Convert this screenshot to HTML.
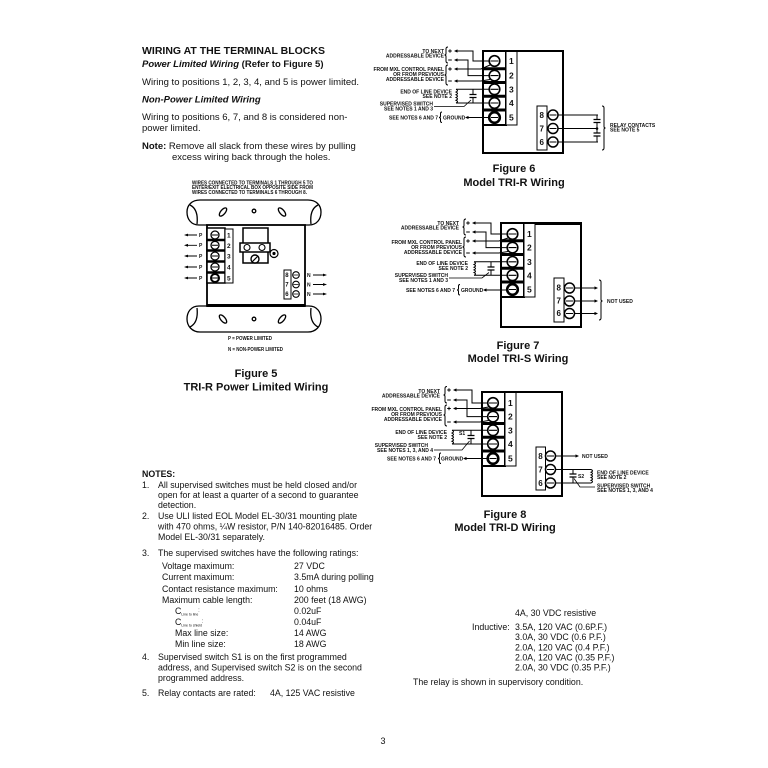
<!DOCTYPE html>
<html><head><meta charset="utf-8">
<style>
html,body{margin:0;padding:0;background:#fff;}
svg{display:block;}
text{font-family:"Liberation Sans",Arial,sans-serif;fill:#111;}
.b{font-weight:bold;}
.s{font-size:5px;font-weight:bold;}
.t{font-size:9.5px;}
.n{font-size:8.8px;}
.cap{font-size:11px;font-weight:bold;text-anchor:middle;}
.e{text-anchor:end;}
</style></head><body>
<svg width="768" height="768" viewBox="0 0 768 768" xmlns="http://www.w3.org/2000/svg">
<rect width="768" height="768" fill="#fff"/>

<!-- ===== Top-left text ===== -->
<text x="142" y="54" class="b" font-size="10.5">WIRING AT THE TERMINAL BLOCKS</text>
<text x="142" y="67" class="b t"><tspan font-style="italic">Power Limited Wiring</tspan> (Refer to Figure 5)</text>
<text x="142" y="85" class="t">Wiring to positions 1, 2, 3, 4, and 5 is power limited.</text>
<text x="142" y="102.5" class="b t" font-style="italic">Non-Power Limited Wiring</text>
<text x="142" y="120" class="t">Wiring to positions 6, 7, and 8 is considered non-</text>
<text x="142" y="131" class="t">power limited.</text>
<text x="142" y="149" class="t"><tspan font-weight="bold">Note:</tspan> Remove all slack from these wires by pulling</text>
<text x="172" y="160" class="t">excess wiring back through the holes.</text>

<!-- ===== Figure 5 ===== -->
<text x="192" y="184.5" class="s" font-size="4.6" textLength="121" lengthAdjust="spacingAndGlyphs">WIRES CONNECTED TO TERMINALS 1 THROUGH 5 TO</text>
<text x="192" y="189.2" class="s" font-size="4.6" textLength="121" lengthAdjust="spacingAndGlyphs">ENTER/EXIT ELECTRICAL BOX OPPOSITE SIDE FROM</text>
<text x="192" y="193.9" class="s" font-size="4.6" textLength="115" lengthAdjust="spacingAndGlyphs">WIRES CONNECTED TO TERMINALS 6 THROUGH 8.</text>

<g fill="#fff" stroke="#000" stroke-width="1.3">
  <path d="M207 225L199 225C191 225 187 219 187 212C187 205 192 200 200 200L308 200C316 200 321 205 321 212C321 219 317 225 309 225L305 225"/>
  <path d="M207 306L199 306C191 306 187 312 187 319C187 326 192 332 200 332L308 332C316 332 321 326 321 319C321 312 317 306 309 306L305 306"/>
  <path fill="none" d="M190 205C196 208 198 215 197 224M318 205C312 208 310 215 311 224M190 327C196 324 198 317 197 308M318 327C312 324 310 317 311 308"/>
  <ellipse cx="223" cy="212" rx="5" ry="2.3" transform="rotate(-50 223 212)"/>
  <ellipse cx="282" cy="212" rx="5" ry="2.3" transform="rotate(50 282 212)"/>
  <circle cx="254" cy="211" r="1.8"/>
  <ellipse cx="223" cy="319" rx="5" ry="2.3" transform="rotate(50 223 319)"/>
  <ellipse cx="282" cy="319" rx="5" ry="2.3" transform="rotate(-50 282 319)"/>
  <circle cx="254" cy="319" r="1.8"/>
</g>
<rect x="207" y="225" width="98" height="81" fill="#fff" stroke="#000" stroke-width="1.8"/>
<line x1="207" y1="305.5" x2="305" y2="305.5" stroke="#000" stroke-width="3"/>
<!-- fig5 terminal block -->
<rect x="207" y="228" width="18" height="55" fill="#fff" stroke="#000" stroke-width="1.5"/>
<rect x="225" y="229" width="8" height="54" fill="#fff" stroke="#000" stroke-width="1"/>
<path d="M207 240H225M207 250.5H225M207 261.5H225M207 272.5H225" stroke="#000" stroke-width="2.5"/>
<g fill="#fff" stroke="#000" stroke-width="1.3">
  <circle cx="215" cy="235" r="4"/><circle cx="215" cy="245.3" r="4"/><circle cx="215" cy="256" r="4"/><circle cx="215" cy="267" r="4"/><circle cx="215" cy="278" r="4" stroke-width="2"/>
</g>
<path d="M212 235H218M212 245.3H218M212 256H218M212 267H218M212 278H218" stroke="#000" stroke-width="1"/>
<g class="b" font-size="6.5">
  <text x="227" y="237.5">1</text><text x="227" y="247.8">2</text><text x="227" y="258.5">3</text><text x="227" y="269.5">4</text><text x="227" y="280.5">5</text>
</g>
<!-- fig5 left arrows -->
<g stroke="#000" stroke-width="0.9"><path d="M187 235H197M187 245.3H197M187 256H197M187 267H197M187 278H197"/></g>
<g fill="#000">
  <polygon points="184,235 188,233.6 188,236.4"/><polygon points="184,245.3 188,243.9 188,246.7"/><polygon points="184,256 188,254.6 188,257.4"/><polygon points="184,267 188,265.6 188,268.4"/><polygon points="184,278 188,276.6 188,279.4"/>
</g>
<g class="s" font-size="4.8"><text x="199" y="236.8">P</text><text x="199" y="247">P</text><text x="199" y="257.8">P</text><text x="199" y="268.8">P</text><text x="199" y="279.8">P</text></g>
<!-- fig5 center relay -->
<rect x="243" y="228" width="25" height="35" fill="#fff" stroke="#000" stroke-width="1.5"/>
<rect x="240" y="243" width="30" height="9" fill="#fff" stroke="#000" stroke-width="1.5"/>
<circle cx="247" cy="247.5" r="3" fill="#fff" stroke="#000" stroke-width="1.1"/>
<circle cx="262" cy="247.5" r="3" fill="#fff" stroke="#000" stroke-width="1.1"/>
<circle cx="255" cy="259" r="4" fill="#fff" stroke="#000" stroke-width="1.4"/>
<line x1="252.5" y1="261.5" x2="257.5" y2="256.5" stroke="#000" stroke-width="1.2"/>
<circle cx="274" cy="253.5" r="4" fill="#fff" stroke="#000" stroke-width="1.2"/>
<circle cx="274" cy="253.5" r="1.6" fill="#000"/>
<!-- fig5 right terminals -->
<rect x="284" y="270" width="7" height="29" fill="#fff" stroke="#000" stroke-width="1"/>
<g class="b" font-size="6"><text x="285.3" y="277">8</text><text x="285.3" y="286.5">7</text><text x="285.3" y="296">6</text></g>
<g fill="#fff" stroke="#000" stroke-width="1.1"><circle cx="296" cy="275" r="3.3"/><circle cx="296" cy="284.5" r="3.3"/><circle cx="296" cy="294" r="3.3"/></g>
<path d="M293.5 275H298.5M293.5 284.5H298.5M293.5 294H298.5" stroke="#000" stroke-width="0.8"/>
<g class="s" font-size="4.8"><text x="307" y="276.8">N</text><text x="307" y="286.3">N</text><text x="307" y="295.8">N</text></g>
<path d="M313 275H324M313 284.5H324M313 294H324" stroke="#000" stroke-width="0.9"/>
<g fill="#000"><polygon points="327,275 323,273.6 323,276.4"/><polygon points="327,284.5 323,283.1 323,285.9"/><polygon points="327,294 323,292.6 323,295.4"/></g>
<text x="228" y="340" class="s" font-size="4.6" textLength="44" lengthAdjust="spacingAndGlyphs">P = POWER LIMITED</text>
<text x="228" y="351" class="s" font-size="4.6" textLength="55" lengthAdjust="spacingAndGlyphs">N = NON-POWER LIMITED</text>
<text x="256" y="377" class="cap">Figure 5</text>
<text x="256" y="390.5" class="cap">TRI-R Power Limited Wiring</text>

<!-- Figure 6 -->
<g transform="translate(483,51)">
  <rect x="0" y="0" width="80" height="102" fill="#fff" stroke="#000" stroke-width="2"/>
  <rect x="0" y="0" width="23" height="74" fill="#fff" stroke="#000" stroke-width="2"/>
  <rect x="23" y="0.5" width="11" height="73.5" fill="#fff" stroke="#000" stroke-width="1"/>
  <path d="M0 17.8H23M0 31.5H23M0 45.2H23M0 59H23" stroke="#000" stroke-width="3"/>
  <g fill="#fff" stroke="#000" stroke-width="1.6">
    <circle cx="11.5" cy="10" r="5.3"/><circle cx="11.5" cy="24.6" r="5.3"/><circle cx="11.5" cy="38.3" r="5.3"/><circle cx="11.5" cy="52" r="5.3"/><circle cx="11.5" cy="66.5" r="5.3" stroke-width="2.6"/>
  </g>
  <path d="M7.5 10H15.5M7.5 24.6H15.5M7.5 38.3H15.5M7.5 52H15.5M8 66.5H15" stroke="#000" stroke-width="1.1"/>
  <g class="b" font-size="8.5"><text x="26" y="13">1</text><text x="26" y="27.6">2</text><text x="26" y="41.3">3</text><text x="26" y="55">4</text><text x="26" y="69.5">5</text></g>
  <rect x="54" y="55" width="10" height="44" fill="#fff" stroke="#000" stroke-width="1"/>
  <g class="b" font-size="8"><text x="56.5" y="67">8</text><text x="56.5" y="80.5">7</text><text x="56.5" y="94">6</text></g>
  <g fill="none" stroke="#000" stroke-width="1">
    <path d="M-26 0H-10V10H6"/>
    <path d="M-26 9H-15V24.6H6"/>
    <path d="M-26 18H-2L7 14"/>
    <path d="M-26 30H-2L7 28.5"/>
    <path d="M-27 38.3H6M-27 52H6"/>
    <path d="M-27 38.3q3 1.37 0 2.74q3 1.37 0 2.74q3 1.37 0 2.74q3 1.37 0 2.74q3 1.37 0 2.74"/>
    <path d="M-10 38.3V43.5M-10 46.5V52"/>
    <path d="M-13.5 43.5H-6.5M-13.5 46.5H-6.5" stroke-width="1.3"/>
    <path d="M-49 55.5H-19L-12 49" stroke-width="0.8"/>
    <path d="M-16 66.5H6"/>
    <path d="M-35 -4Q-37 -4 -37 -2L-37 2.5Q-37 4 -38.5 4Q-37 4 -37 5.5L-37 10Q-37 12 -35 12"/>
    <path d="M-35 14Q-37 14 -37 16L-37 22.5Q-37 24 -38.5 24Q-37 24 -37 25.5L-37 32Q-37 34 -35 34"/>
    <path d="M-41 61Q-42.5 61 -42.5 62.5L-42.5 65Q-42.5 66.5 -44 66.5Q-42.5 66.5 -42.5 68L-42.5 70Q-42.5 71.5 -41 71.5"/>
    <path d="M-34.8 0H-31.2M-33 -1.8V1.8M-34.8 9H-31.2M-34.8 18H-31.2M-33 16.2V19.8M-34.8 30H-31.2" stroke-width="0.9"/>
  </g>
  <g fill="#000">
    <polygon points="-29,0 -25.5,-1.6 -25.5,1.6"/><polygon points="-29,9 -25.5,7.4 -25.5,10.6"/><polygon points="-29,18 -25.5,16.4 -25.5,19.6"/><polygon points="-29,30 -25.5,28.4 -25.5,31.6"/>
    <polygon points="-18,66.5 -14.5,64.9 -14.5,68.1"/>
  </g>
  <g class="s">
    <text x="-39" y="1.8" class="e">TO NEXT</text>
    <text x="-39" y="6.6" class="e">ADDRESSABLE DEVICE</text>
    <text x="-39" y="19.8" class="e">FROM MXL CONTROL PANEL</text>
    <text x="-39" y="24.8" class="e">OR FROM PREVIOUS</text>
    <text x="-39" y="29.8" class="e">ADDRESSABLE DEVICE</text>
    <text x="-31" y="42.5" class="e">END OF LINE DEVICE</text>
    <text x="-31" y="47" class="e">SEE NOTE 2</text>
    <text x="-50" y="54.5" class="e">SUPERVISED SWITCH</text>
    <text x="-50" y="59.5" class="e">SEE NOTES 1 AND 3</text>
    <text x="-45" y="68.3" class="e">SEE NOTES 6 AND 7</text>
    <text x="-40" y="68.3">GROUND</text>
  </g>
  <g fill="#fff" stroke="#000" stroke-width="1.5"><circle cx="70" cy="64" r="5"/><circle cx="70" cy="77.5" r="5"/><circle cx="70" cy="91" r="5"/></g>
  <g fill="none" stroke="#000" stroke-width="1">
    <path d="M75 64H115M75 77.5H115M75 91H115M66.5 64H73.5M66.5 77.5H73.5M66.5 91H73.5"/>
    <path d="M114 64V68.5M114 71.5V82M114 85V91"/>
    <path d="M110.5 68.5H117.5M110.5 71.5H117.5M110.5 82H117.5M110.5 85H117.5" stroke-width="1.3"/>
    <path d="M119 55Q121 55 121 57L121 75.5Q121 77 122.5 77Q121 77 121 78.5L121 97Q121 99 119 99"/>
  </g>
  <circle cx="114" cy="77.5" r="1.3" fill="#000"/>
  <text x="127" y="76" class="s">RELAY CONTACTS</text>
  <text x="127" y="80.5" class="s">SEE NOTE 5</text>
</g>
<text x="514" y="172" class="cap">Figure 6</text>
<text x="514" y="186" class="cap">Model TRI-R Wiring</text>

<!-- Figure 7 -->
<g transform="translate(501,223)">
  <rect x="0" y="0" width="80" height="104" fill="#fff" stroke="#000" stroke-width="2"/>
  <line x1="0" y1="0.5" x2="80" y2="0.5" stroke="#000" stroke-width="3"/>
  <rect x="0" y="0" width="23" height="74" fill="#fff" stroke="#000" stroke-width="2"/>
  <rect x="23" y="0.5" width="11" height="73.5" fill="#fff" stroke="#000" stroke-width="1"/>
  <path d="M0 17.8H23M0 31.5H23M0 45.2H23M0 59H23" stroke="#000" stroke-width="3"/>
  <g fill="#fff" stroke="#000" stroke-width="1.6">
    <circle cx="11.5" cy="11" r="5.3"/><circle cx="11.5" cy="24.6" r="5.3"/><circle cx="11.5" cy="38.8" r="5.3"/><circle cx="11.5" cy="52.3" r="5.3"/><circle cx="11.5" cy="66.5" r="5.3" stroke-width="2.6"/>
  </g>
  <path d="M7.5 11H15.5M7.5 24.6H15.5M7.5 38.8H15.5M7.5 52.3H15.5M8 66.5H15" stroke="#000" stroke-width="1.1"/>
  <g class="b" font-size="8.5"><text x="26" y="14">1</text><text x="26" y="27.6">2</text><text x="26" y="41.8">3</text><text x="26" y="55.3">4</text><text x="26" y="69.5">5</text></g>
  <rect x="53" y="55" width="10" height="44" fill="#fff" stroke="#000" stroke-width="1"/>
  <g class="b" font-size="8"><text x="55.5" y="67.5">8</text><text x="55.5" y="80.5">7</text><text x="55.5" y="93">6</text></g>
  <g fill="none" stroke="#000" stroke-width="1">
    <path d="M-26 0H-10V11H6"/>
    <path d="M-26 9H-15V24.6H6"/>
    <path d="M-26 18H-2L7 15"/>
    <path d="M-26 30H-2L7 28.5"/>
    <path d="M-27 38.8H6M-27 52.3H6"/>
    <path d="M-27 38.8q3 1.35 0 2.7q3 1.35 0 2.7q3 1.35 0 2.7q3 1.35 0 2.7q3 1.35 0 2.7"/>
    <path d="M-10 38.8V44M-10 47V52.3"/>
    <path d="M-13.5 44H-6.5M-13.5 47H-6.5" stroke-width="1.3"/>
    <path d="M-52 55H-19L-12 49.5" stroke-width="0.8"/>
    <path d="M-16 67H6"/>
    <path d="M-35 -4Q-37 -4 -37 -2L-37 2.5Q-37 4 -38.5 4Q-37 4 -37 5.5L-37 10Q-37 12 -35 12"/>
    <path d="M-35 14Q-37 14 -37 16L-37 22.5Q-37 24 -38.5 24Q-37 24 -37 25.5L-37 32Q-37 34 -35 34"/>
    <path d="M-41 61.5Q-42.5 61.5 -42.5 63L-42.5 65.5Q-42.5 67 -44 67Q-42.5 67 -42.5 68.5L-42.5 70.5Q-42.5 72 -41 72"/>
    <path d="M-34.8 0H-31.2M-33 -1.8V1.8M-34.8 9H-31.2M-34.8 18H-31.2M-33 16.2V19.8M-34.8 30H-31.2" stroke-width="0.9"/>
  </g>
  <g fill="#000">
    <polygon points="-29,0 -25.5,-1.6 -25.5,1.6"/><polygon points="-29,9 -25.5,7.4 -25.5,10.6"/><polygon points="-29,18 -25.5,16.4 -25.5,19.6"/><polygon points="-29,30 -25.5,28.4 -25.5,31.6"/>
    <polygon points="-18,67 -14.5,65.4 -14.5,68.6"/>
  </g>
  <g class="s">
    <text x="-42" y="1.8" class="e">TO NEXT</text>
    <text x="-42" y="6.3" class="e">ADDRESSABLE DEVICE</text>
    <text x="-39" y="20.8" class="e">FROM MXL CONTROL PANEL</text>
    <text x="-39" y="25.8" class="e">OR FROM PREVIOUS</text>
    <text x="-39" y="30.8" class="e">ADDRESSABLE DEVICE</text>
    <text x="-33" y="42" class="e">END OF LINE DEVICE</text>
    <text x="-33" y="46.8" class="e">SEE NOTE 2</text>
    <text x="-53" y="54" class="e">SUPERVISED SWITCH</text>
    <text x="-53" y="59" class="e">SEE NOTES 1 AND 3</text>
    <text x="-46" y="68.8" class="e">SEE NOTES 6 AND 7</text>
    <text x="-40" y="68.8">GROUND</text>
  </g>
  <g fill="#fff" stroke="#000" stroke-width="1.5"><circle cx="68.5" cy="65" r="5"/><circle cx="68.5" cy="78" r="5"/><circle cx="68.5" cy="90.5" r="5"/></g>
  <g fill="none" stroke="#000" stroke-width="1">
    <path d="M73.5 65H94M73.5 78H94M73.5 90.5H94M65 65H72M65 78H72M65 90.5H72"/>
    <path d="M98 57Q100 57 100 59L100 76.5Q100 78 101.5 78Q100 78 100 79.5L100 95Q100 97 98 97"/>
  </g>
  <g fill="#000"><polygon points="97,65 93.5,63.4 93.5,66.6"/><polygon points="97,78 93.5,76.4 93.5,79.6"/><polygon points="97,90.5 93.5,88.9 93.5,92.1"/></g>
  <text x="106" y="80" class="s">NOT USED</text>
</g>
<text x="518" y="349" class="cap">Figure 7</text>
<text x="518" y="362" class="cap">Model TRI-S Wiring</text>

<!-- Figure 8 -->
<g transform="translate(482,392)">
  <rect x="0" y="0" width="80" height="104" fill="#fff" stroke="#000" stroke-width="2"/>
  <rect x="0" y="0" width="23" height="74" fill="#fff" stroke="#000" stroke-width="2"/>
  <rect x="23" y="0.5" width="11" height="73.5" fill="#fff" stroke="#000" stroke-width="1"/>
  <path d="M0 17.8H23M0 31.5H23M0 45.2H23M0 59H23" stroke="#000" stroke-width="3"/>
  <g fill="#fff" stroke="#000" stroke-width="1.6">
    <circle cx="11" cy="11" r="5.3"/><circle cx="11" cy="24.6" r="5.3"/><circle cx="11" cy="38.3" r="5.3"/><circle cx="11" cy="52" r="5.3"/><circle cx="11" cy="66.5" r="5.3" stroke-width="2.6"/>
  </g>
  <path d="M7 11H15M7 24.6H15M7 38.3H15M7 52H15M7.5 66.5H14.5" stroke="#000" stroke-width="1.1"/>
  <g class="b" font-size="8.5"><text x="26" y="14">1</text><text x="26" y="27.6">2</text><text x="26" y="41.3">3</text><text x="26" y="55">4</text><text x="26" y="69.5">5</text></g>
  <rect x="54" y="55" width="9.5" height="43" fill="#fff" stroke="#000" stroke-width="1"/>
  <g class="b" font-size="8"><text x="56.3" y="67">8</text><text x="56.3" y="80.5">7</text><text x="56.3" y="94">6</text></g>
  <g fill="none" stroke="#000" stroke-width="1">
    <path d="M-26 -2H-10V11H5.5"/>
    <path d="M-26 8H-15V24.6H5.5"/>
    <path d="M-26 16.5H-2L6.5 15"/>
    <path d="M-26 30H-2L6.5 28.5"/>
    <path d="M-30 38.3H5.5M-30 52H5.5"/>
    <path d="M-30 38.3q3 1.37 0 2.74q3 1.37 0 2.74q3 1.37 0 2.74q3 1.37 0 2.74q3 1.37 0 2.74"/>
    <path d="M-11 38.3V43.5M-11 46.5V52"/>
    <path d="M-14.5 43.5H-7.5M-14.5 46.5H-7.5" stroke-width="1.3"/>
    <path d="M-48 58H-20L-12.5 49" stroke-width="0.8"/>
    <path d="M-17 66.5H5.5"/>
    <path d="M-35 -5.5Q-37 -5.5 -37 -3.5L-37 1.5Q-37 3 -38.5 3Q-37 3 -37 4.5L-37 9Q-37 11 -35 11"/>
    <path d="M-35 13Q-37 13 -37 15L-37 21.5Q-37 23 -38.5 23Q-37 23 -37 24.5L-37 32Q-37 34 -35 34"/>
    <path d="M-41 61Q-42.5 61 -42.5 62.5L-42.5 65Q-42.5 66.5 -44 66.5Q-42.5 66.5 -42.5 68L-42.5 70Q-42.5 71.5 -41 71.5"/>
    <path d="M-34.8 -2H-31.2M-33 -3.8V-0.2M-34.8 8H-31.2M-34.8 16.5H-31.2M-33 14.7V18.3M-34.8 30H-31.2" stroke-width="0.9"/>
  </g>
  <g fill="#000">
    <polygon points="-29,-2 -25.5,-3.6 -25.5,-0.4"/><polygon points="-29,8 -25.5,6.4 -25.5,9.6"/><polygon points="-29,16.5 -25.5,14.9 -25.5,18.1"/><polygon points="-29,30 -25.5,28.4 -25.5,31.6"/>
    <polygon points="-19,66.5 -15.5,64.9 -15.5,68.1"/>
  </g>
  <g class="s">
    <text x="-42" y="0.8" class="e">TO NEXT</text>
    <text x="-42" y="5.6" class="e">ADDRESSABLE DEVICE</text>
    <text x="-40" y="18.8" class="e">FROM MXL CONTROL PANEL</text>
    <text x="-40" y="23.8" class="e">OR FROM PREVIOUS</text>
    <text x="-40" y="28.8" class="e">ADDRESSABLE DEVICE</text>
    <text x="-35" y="42" class="e">END OF LINE DEVICE</text>
    <text x="-35" y="46.8" class="e">SEE NOTE 2</text>
    <text x="-23" y="43">S1</text>
    <text x="-54" y="55" class="e">SUPERVISED SWITCH</text>
    <text x="-49" y="59.8" class="e">SEE NOTES 1, 3, AND 4</text>
    <text x="-46" y="68.5" class="e">SEE NOTES 6 AND 7</text>
    <text x="-41" y="68.5">GROUND</text>
  </g>
  <g fill="#fff" stroke="#000" stroke-width="1.5"><circle cx="68.5" cy="64" r="5"/><circle cx="68.5" cy="77.5" r="5"/><circle cx="68.5" cy="91" r="5"/></g>
  <g fill="none" stroke="#000" stroke-width="1">
    <path d="M73.5 64H94M73.5 77.5H109M73.5 91H109M65 64H72M65 77.5H72M65 91H72"/>
    <path d="M91 77.5V82M91 85V91"/>
    <path d="M87.5 82H94.5M87.5 85H94.5" stroke-width="1.3"/>
    <path d="M109 77.5q3 1.35 0 2.7q3 1.35 0 2.7q3 1.35 0 2.7q3 1.35 0 2.7q3 1.35 0 2.7"/>
    <path d="M92 86.5L98 95H113" stroke-width="0.8"/>
  </g>
  <polygon points="97,64 93.5,62.4 93.5,65.6" fill="#000"/>
  <g class="s">
    <text x="100" y="66">NOT USED</text>
    <text x="96" y="86">S2</text>
    <text x="115" y="82.5">END OF LINE DEVICE</text>
    <text x="115" y="87">SEE NOTE 2</text>
    <text x="115" y="95.5">SUPERVISED SWITCH</text>
    <text x="115" y="100">SEE NOTES 1, 3, AND 4</text>
  </g>
</g>
<text x="505" y="518" class="cap">Figure 8</text>
<text x="505" y="531" class="cap">Model TRI-D Wiring</text>

<!-- ===== Notes ===== -->
<text x="142" y="477" class="n b">NOTES:</text>
<text x="142" y="488" class="n">1.</text>
<text x="158" y="488" class="n">All supervised switches must be held closed and/or</text>
<text x="158" y="498" class="n">open for at least a quarter of a second to guarantee</text>
<text x="158" y="508" class="n">detection.</text>
<text x="142" y="519" class="n">2.</text>
<text x="158" y="519" class="n">Use ULI listed EOL Model EL-30/31 mounting plate</text>
<text x="158" y="529.5" class="n">with 470 ohms, ¼W resistor, P/N 140-82016485. Order</text>
<text x="158" y="540" class="n">Model EL-30/31 separately.</text>
<text x="142" y="556" class="n">3.</text>
<text x="158" y="556" class="n">The supervised switches have the following ratings:</text>
<text x="162" y="569" class="n">Voltage maximum:</text><text x="294" y="569" class="n">27 VDC</text>
<text x="162" y="580" class="n">Current maximum:</text><text x="294" y="580" class="n">3.5mA during polling</text>
<text x="162" y="592" class="n">Contact resistance maximum:</text><text x="294" y="592" class="n">10 ohms</text>
<text x="162" y="603" class="n">Maximum cable length:</text><text x="294" y="603" class="n">200 feet (18 AWG)</text>
<text x="175" y="614" class="n">C<tspan font-size="3.5" dy="1.5">Line to line</tspan><tspan font-size="5" dy="-4">:</tspan></text><text x="294" y="614" class="n">0.02uF</text>
<text x="175" y="625" class="n">C<tspan font-size="3.5" dy="1.5">Line to shield</tspan><tspan font-size="5" dy="-4">:</tspan></text><text x="294" y="625" class="n">0.04uF</text>
<text x="175" y="636" class="n">Max line size:</text><text x="294" y="636" class="n">14 AWG</text>
<text x="175" y="647" class="n">Min line size:</text><text x="294" y="647" class="n">18 AWG</text>
<text x="142" y="660" class="n">4.</text>
<text x="158" y="660" class="n">Supervised switch S1 is on the first programmed</text>
<text x="158" y="670.5" class="n">address, and Supervised switch S2 is on the second</text>
<text x="158" y="681" class="n">programmed address.</text>
<text x="142" y="696" class="n">5.</text>
<text x="158" y="696" class="n">Relay contacts are rated:</text>
<text x="270" y="696" class="n">4A, 125 VAC resistive</text>

<!-- Right column notes -->
<text x="515" y="616" class="n">4A, 30 VDC resistive</text>
<text x="472" y="630" class="n">Inductive:</text>
<text x="515" y="630" class="n">3.5A, 120 VAC (0.6P.F.)</text>
<text x="515" y="640" class="n">3.0A, 30 VDC (0.6 P.F.)</text>
<text x="515" y="650.5" class="n">2.0A, 120 VAC (0.4 P.F.)</text>
<text x="515" y="660.5" class="n">2.0A, 120 VAC (0.35 P.F.)</text>
<text x="515" y="670.5" class="n">2.0A, 30 VDC (0.35 P.F.)</text>
<text x="413" y="685" class="n">The relay is shown in supervisory condition.</text>

<text x="383" y="744" font-size="9" text-anchor="middle">3</text>
</svg>
</body></html>
